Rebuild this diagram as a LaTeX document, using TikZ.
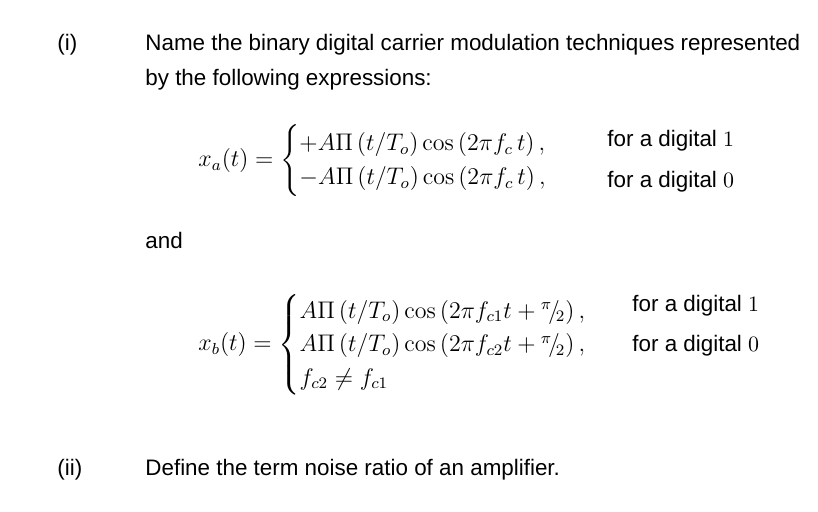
\documentclass[tikz,border=0pt]{standalone}
\usepackage{amsmath}
\usepackage[no-math]{fontspec}
\setmainfont{Liberation Sans}
\begin{document}
\begin{tikzpicture}[x=0.5pt,y=-0.5pt,
  txt/.style={anchor=base west,inner sep=0pt,font=\fontsize{11.2}{13}\selectfont},
  eq/.style={anchor=west,inner sep=0pt,font=\fontsize{12}{14}\selectfont}]
\useasboundingbox (0,0) rectangle (818,512);
\node[txt] (n1) at (57,51) {(i)};
\node[txt] (l1) at (145,51) {Name the binary digital carrier modulation techniques represented};
\node[txt] (l2) at (145,86) {by the following expressions:};
\node[eq] (ea) at (198,161) {$x_a(t)=\begin{cases}+A\Pi\left(t/T_o\right)\cos\left(2\pi f_c\,t\right), & \\ -A\Pi\left(t/T_o\right)\cos\left(2\pi f_c\,t\right), & \end{cases}$};
\node[txt] (fa1) at (607,147) {for a digital $1$};
\node[txt] (fa0) at (607,188) {for a digital $0$};
\node[txt] (and) at (145,249) {and};
\node[eq] (eb) at (198,345) {$x_b(t)=\begin{cases}A\Pi\left(t/T_o\right)\cos\left(2\pi f_{c1}t+{}^{\pi}\!/\!{}_{2}\right), & \\ A\Pi\left(t/T_o\right)\cos\left(2\pi f_{c2}t+{}^{\pi}\!/\!{}_{2}\right), & \\ f_{c2}\neq f_{c1} & \end{cases}$};
\node[txt] (fb1) at (632,312) {for a digital $1$};
\node[txt] (fb0) at (632,352) {for a digital $0$};
\node[txt] (n2) at (57,475) {(ii)};
\node[txt] (l3) at (145,475) {Define the term noise ratio of an amplifier.};
\end{tikzpicture}
\end{document}
